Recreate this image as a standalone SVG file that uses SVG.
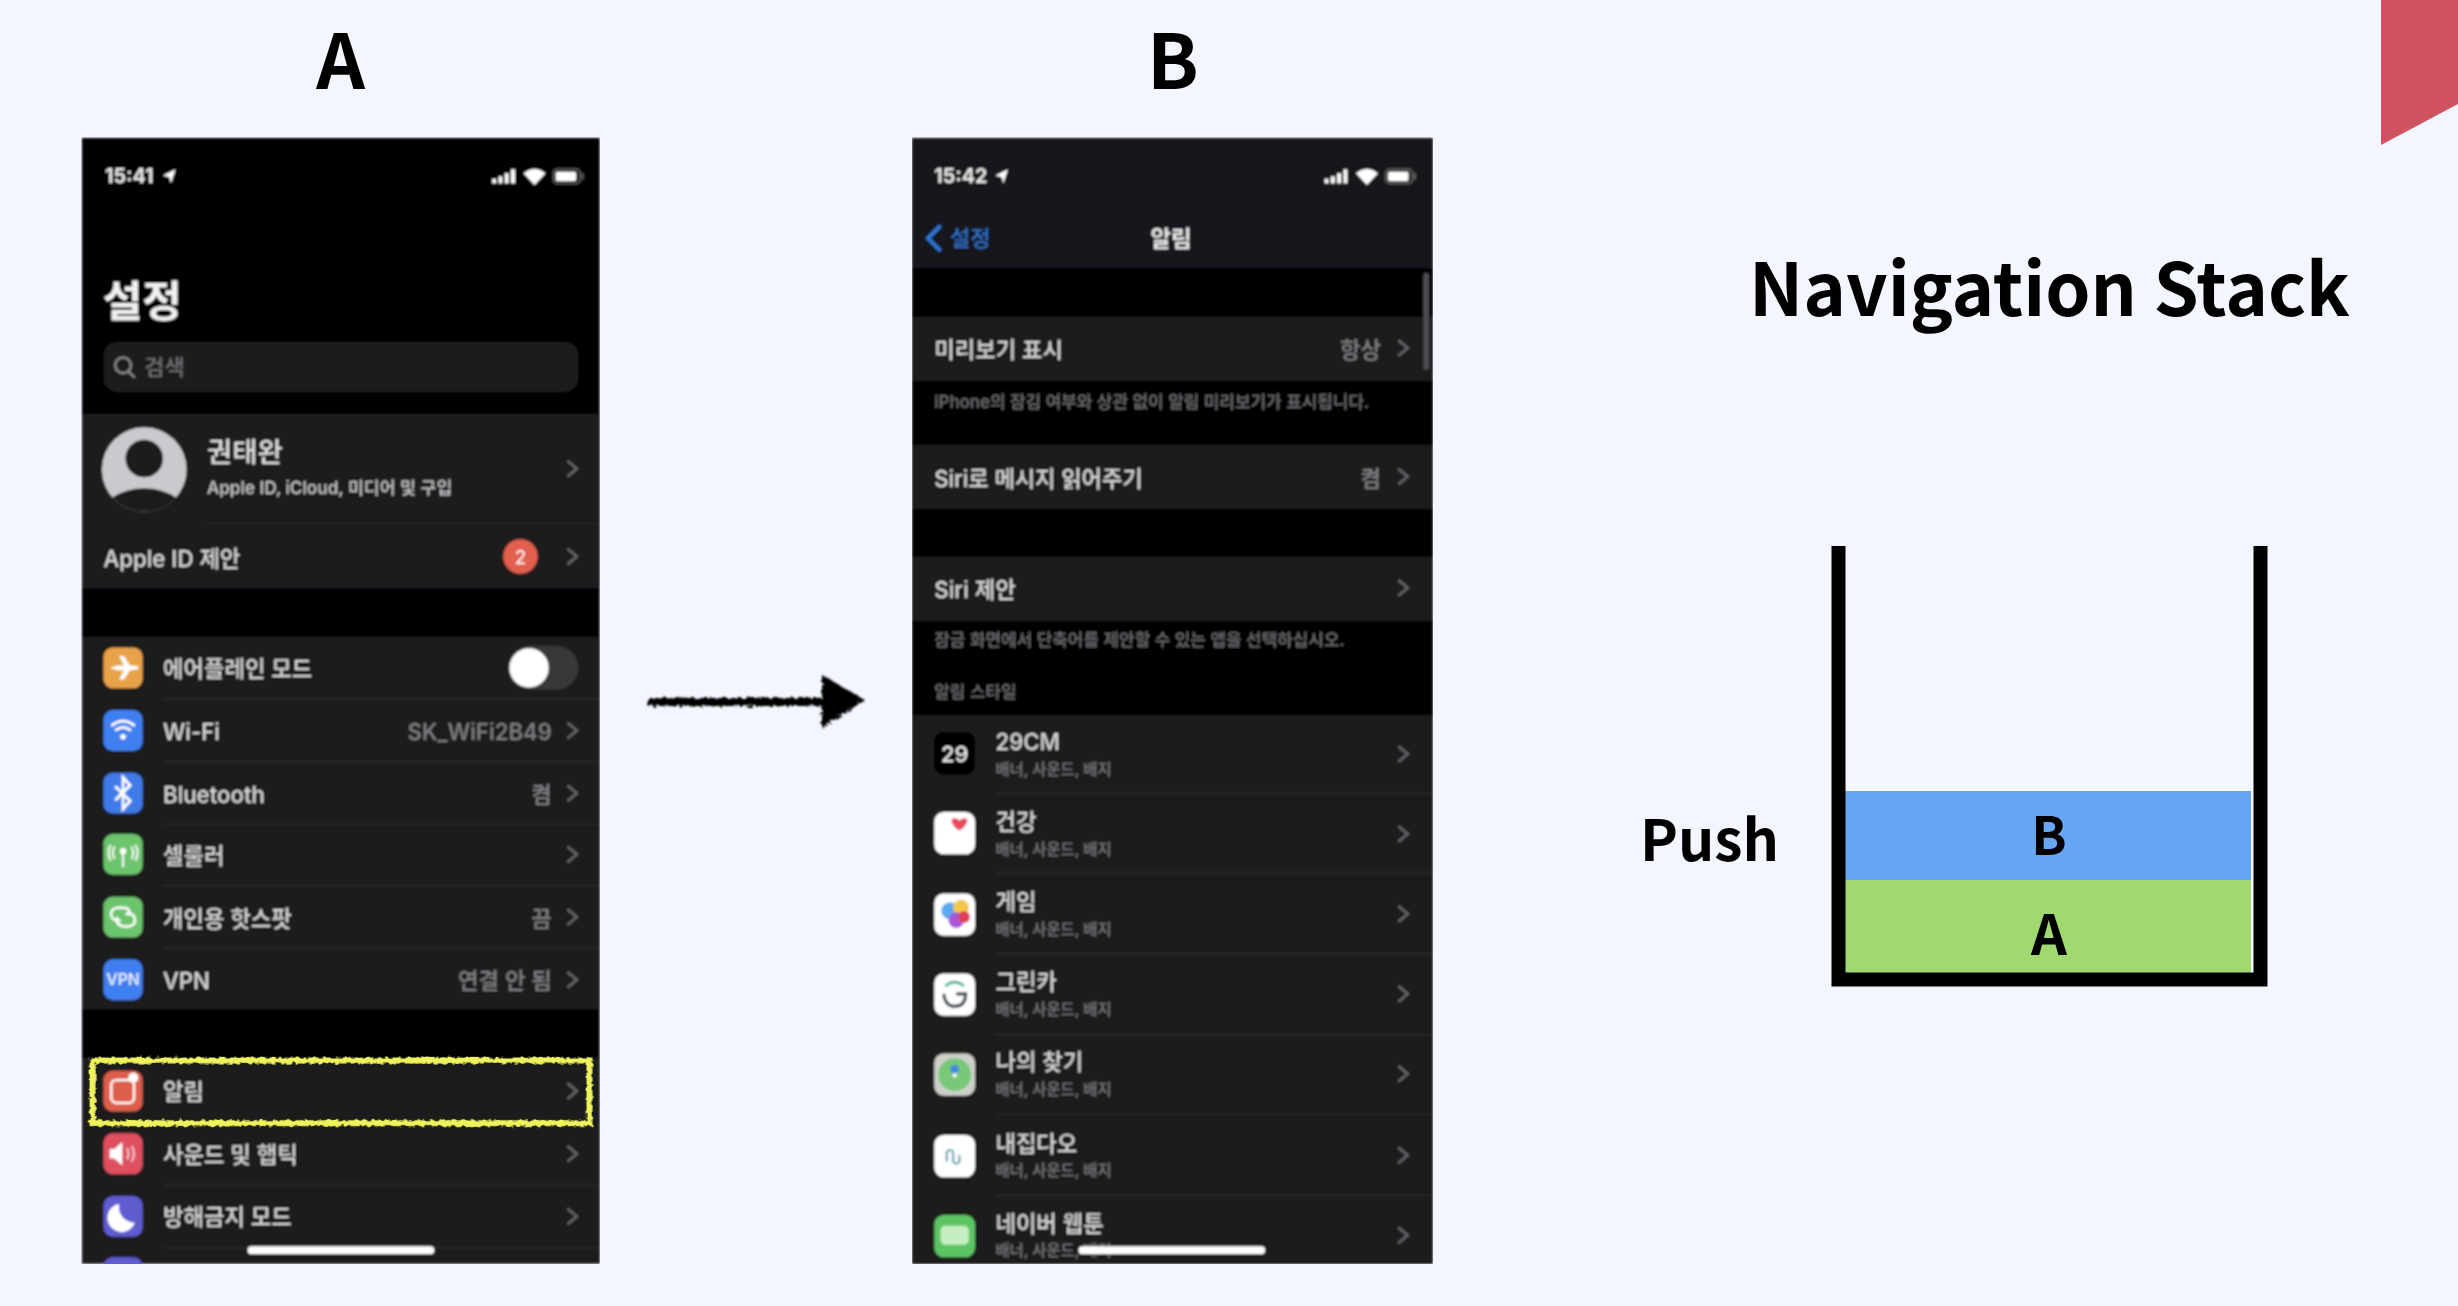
<svg xmlns="http://www.w3.org/2000/svg" width="2458" height="1306" viewBox="0 0 2458 1306">
<style>
text{font-family:Inter,"Noto Sans CJK KR",sans-serif}
.h{font-family:"Noto Sans CJK KR",sans-serif;font-weight:700;fill:#000}
.lbl{font-size:14.2px;font-weight:500;fill:#d8d8da;transform:translateY(.6px)}
.val{font-size:14.2px;font-weight:500;fill:#808084;text-anchor:end;transform:translateY(.6px)}
.cap{font-size:10.8px;font-weight:500;fill:#6c6c70}
.sub{font-size:9.8px;font-weight:500;fill:#77777b;transform:translateY(.5px)}
.name{font-size:14.2px;font-weight:500;fill:#d8d8da;transform:translateY(.6px)}
.sec{fill:#1c1c1e}
.div{stroke:#2a2a2c;stroke-width:1}
.ic{fill:#fff}
.chev{fill:none;stroke:#66666a;stroke-width:1.6}
.wh{fill:#fff;stroke:none}
</style>
<defs>
<filter id="soft" x="-2%" y="-2%" width="104%" height="104%"><feGaussianBlur stdDeviation="0.6"/></filter>
<filter id="rough" x="-5%" y="-20%" width="110%" height="140%"><feTurbulence type="fractalNoise" baseFrequency="0.35" numOctaves="2" seed="4"/><feDisplacementMap in="SourceGraphic" scale="3.500"/><feGaussianBlur stdDeviation="0.4"/></filter>
<filter id="rough-arrow" filterUnits="userSpaceOnUse" x="620" y="650" width="270" height="100"><feTurbulence type="fractalNoise" baseFrequency="0.3" numOctaves="2" seed="7"/><feDisplacementMap in="SourceGraphic" scale="6"/><feGaussianBlur stdDeviation="0.8"/></filter>
<clipPath id="clipA"><rect x="52" y="88" width="330.500" height="718"/></clipPath>
<clipPath id="clipB"><rect x="582" y="88" width="332" height="718"/></clipPath>
<clipPath id="avatar"><circle cx="92" cy="299.500" r="27"/></clipPath>
<path id="chevron" class="chev" d="M-3,-5 L3,0 L-3,5"/>
<g id="status">
<rect class="wh" x="0" y="5" width="2.500" height="3"/><rect class="wh" x="4" y="3.500" width="2.500" height="4.500"/><rect class="wh" x="8" y="1.500" width="2.500" height="6.500"/><rect class="wh" x="12" y="-1" width="2.500" height="9"/>
<path d="M20,1.500 Q27,-4 34,1.500 L27,9 Z" class="wh"/>
<rect x="39" y="-1" width="17" height="9" rx="2.500" fill="none" stroke="#666" stroke-width="1"/><rect class="wh" x="40.500" y="0.500" width="13" height="6" rx="1"/>
<rect x="57" y="1.500" width="1.200" height="4" fill="#666"/>
</g>
<path id="loc" class="wh" d="M0,3 L8,-1 L5,8 L4,4 Z"/>
<marker id="head" markerUnits="userSpaceOnUse" markerWidth="50" markerHeight="60" refX="2" refY="27" orient="auto"><path d="M0,0 L43,25 L0,53 Z" fill="#000"/></marker>
</defs>
<rect id="background" width="2458" height="1306" fill="#f3f6fe"/>
<polygon id="corner" points="2381,0 2458,0 2458,104 2381,145" fill="#cf5460"/>
<text class="h" x="340.500" y="89" font-size="76" text-anchor="middle">A</text>
<text class="h" x="1173" y="89" font-size="76" text-anchor="middle">B</text>
<text id="title" class="h" x="1749" y="316" font-size="72.400">Navigation Stack</text>

<g transform="scale(1.5676)">
<g id="phone-a" clip-path="url(#clipA)">
<g filter="url(#soft)">
<rect x="52" y="88" width="330.500" height="718" fill="#000"/>
<text x="67" y="117" font-size="12.500" font-weight="700" fill="#e8e8e8">15:41</text><use href="#loc" x="104" y="109"/>
<use href="#status" x="314" y="109"/>
<text x="65.500" y="202.500" font-size="27.500" font-weight="700" fill="#f2f2f2">설정</text>
<rect class="sec" x="66" y="218" width="303" height="32" rx="9"/>
<circle cx="78.500" cy="233" r="5" fill="none" stroke="#8a8a8e" stroke-width="1.500"/><path d="M82,237 L86,241" stroke="#8a8a8e" stroke-width="1.500"/>
<text x="92" y="239" font-size="14" font-weight="500" fill="#6e6e72">검색</text>

<rect class="sec" x="52" y="264" width="330.500" height="111.500"/>
<circle cx="92" cy="299.500" r="27" fill="#c9c9ce"/>
<g clip-path="url(#avatar)"><circle cx="92" cy="292.500" r="12" fill="#1c1c1e"/><ellipse cx="92" cy="332" rx="29" ry="20.500" fill="#1c1c1e"/></g>
<text x="132" y="294.500" font-size="17.500" font-weight="500" fill="#e0e0e2">권태완</text>
<text x="132" y="315" font-size="11" font-weight="500" fill="#c8c8cc">Apple ID, iCloud, 미디어 및 구입</text>
<use href="#chevron" x="365" y="299"/>
<line class="div" x1="132" y1="334" x2="382" y2="334"/>
<text class="lbl" x="66" y="361">Apple ID 제안</text>
<circle cx="332" cy="355" r="11" fill="#e2604e"/><text x="332" y="359.500" font-size="12" fill="#fff" text-anchor="middle">2</text>
<use href="#chevron" x="365" y="355"/>

<rect class="sec" x="52" y="406" width="330.500" height="238"/>
<line class="div" x1="104" y1="446" x2="382" y2="446"/><line class="div" x1="104" y1="486" x2="382" y2="486"/><line class="div" x1="104" y1="526" x2="382" y2="526"/><line class="div" x1="104" y1="565" x2="382" y2="565"/><line class="div" x1="104" y1="605" x2="382" y2="605"/>

<g id="row-airplane"><rect x="66" y="413" width="25" height="26" rx="6" fill="#e8a349"/><path class="ic" d="M70,426 L75,424.500 L79,424.500 L76,418.500 L79,418.500 L83,424.500 L88,425 L88,427 L83,427.500 L79,433.500 L76,433.500 L79,427.500 L75,427.500 Z"/><text class="lbl" x="104" y="431">에어플레인 모드</text><rect x="324" y="412" width="45" height="28" rx="14" fill="#38383a"/><circle cx="337.500" cy="426" r="12.500" fill="#fff"/></g>
<g id="row-wifi"><rect x="66" y="453" width="25" height="26" rx="6" fill="#3f7ff0"/><path d="M71,463 Q78.500,457 86,463 M73.500,466 Q78.500,462 83.500,466" fill="none" stroke="#fff" stroke-width="1.800"/><circle class="ic" cx="78.500" cy="470" r="1.800"/><text class="lbl" x="104" y="471.500">Wi-Fi</text><text class="val" x="352" y="471.500" textLength="92">SK_WiFi2B49</text><use href="#chevron" x="365" y="466"/></g>
<g id="row-bluetooth"><rect x="66" y="493" width="25" height="26" rx="6" fill="#3f7ae8"/><path d="M73.500,501.500 L83,511 L78.500,516 L78.500,496 L83,501 L73.500,510.500" fill="none" stroke="#fff" stroke-width="1.800"/><text class="lbl" x="104" y="511.500">Bluetooth</text><text class="val" x="352" y="511.500">켬</text><use href="#chevron" x="365" y="506"/></g>
<g id="row-cellular"><rect x="66" y="532" width="25" height="26" rx="6" fill="#6cc46c"/><path d="M78.500,542 L78.500,553 M73,540 Q71,544 73,548 M84,540 Q86,544 84,548 M70.500,539 Q68,544 70.500,549 M86.500,539 Q89,544 86.500,549" fill="none" stroke="#fff" stroke-width="1.200"/><circle class="ic" cx="78.500" cy="543" r="2"/><text class="lbl" x="104" y="550.500">셀룰러</text><use href="#chevron" x="365" y="545"/></g>
<g id="row-hotspot"><rect x="66" y="572" width="25" height="26" rx="6" fill="#6cc46c"/><path d="M82,584 Q84,579 78,579 L75,579 Q70,580 71,584 Q72,588 77,587 M75,585 Q73,590 79,591 L82,591 Q87,590 86,586 Q85,582 80,583" fill="none" stroke="#fff" stroke-width="1.600"/><text class="lbl" x="104" y="590.500">개인용 핫스팟</text><text class="val" x="352" y="590.500">끔</text><use href="#chevron" x="365" y="585"/></g>
<g id="row-vpn"><rect x="66" y="612" width="25" height="26" rx="6" fill="#3f7ff0"/><text x="78.500" y="628.500" font-size="10" font-weight="600" fill="#fff" text-anchor="middle" opacity="0.850">VPN</text><text class="lbl" x="104" y="630.500">VPN</text><text class="val" x="352" y="630.500">연결 안 됨</text><use href="#chevron" x="365" y="625"/></g>

<rect class="sec" x="52" y="675" width="330.500" height="131"/>
<line class="div" x1="104" y1="756" x2="382" y2="756"/><line class="div" x1="104" y1="796" x2="382" y2="796"/>
<g id="row-alarm"><rect x="66" y="683" width="25" height="26" rx="6" fill="#dd5e4c"/><rect x="71" y="689" width="14.500" height="14.500" rx="3" fill="none" stroke="#fff" stroke-width="1.500"/><circle class="ic" cx="85" cy="687.500" r="3.200"/><text class="lbl" x="104" y="701">알림</text><use href="#chevron" x="365" y="696"/></g>
<g id="row-sound"><rect x="66" y="723" width="25" height="26" rx="6" fill="#de5060"/><path class="ic" d="M70,733 L73,733 L78,728.500 L78,743.500 L73,739 L70,739 Z"/><path d="M81,732.500 Q83,736 81,739.500 M84,731 Q87,736 84,741" fill="none" stroke="#fff" stroke-width="1.200" opacity="0.700"/><text class="lbl" x="104" y="741">사운드 및 햅틱</text><use href="#chevron" x="365" y="736"/></g>
<g id="row-dnd"><rect x="66" y="763" width="25" height="26" rx="6" fill="#5e5ccf"/><path class="ic" d="M76,768 A9,9 0 1 0 86,780 A10,10 0 0 1 76,768 Z"/><text class="lbl" x="104" y="781">방해금지 모드</text><use href="#chevron" x="365" y="776"/></g>
<rect x="66" y="802" width="25" height="26" rx="6" fill="#5e5ccf"/>
<rect class="wh" x="158" y="795" width="119" height="5" rx="2.500"/>
</g>
<rect id="highlight" x="59" y="676.500" width="317" height="40" fill="none" stroke="#eef25c" stroke-width="3.800" filter="url(#rough)"/>
</g>

<g id="phone-b" clip-path="url(#clipB)">
<g filter="url(#soft)">
<rect x="582" y="88" width="332" height="718" fill="#000"/>
<rect x="582" y="88" width="332" height="83" fill="#19191b"/>
<text x="596" y="117" font-size="12.500" font-weight="700" fill="#e8e8e8">15:42</text><use href="#loc" x="635" y="109"/>
<use href="#status" x="845" y="109"/>
<path d="M600,144 L592,152 L600,160" fill="none" stroke="#2f74d0" stroke-width="2.500"/>
<text x="606" y="157" font-size="14" font-weight="500" fill="#2f6fc4">설정</text>
<text x="747" y="157.500" font-size="14.300" font-weight="700" fill="#e8e8e8" text-anchor="middle">알림</text>

<rect class="sec" x="582" y="202" width="332" height="41"/>
<text class="lbl" x="596" y="228">미리보기 표시</text><text class="val" x="881" y="228">항상</text><use href="#chevron" x="895" y="222"/>
<text class="cap" x="596" y="260">iPhone의 잠김 여부와 상관 없이 알림 미리보기가 표시됩니다.</text>
<rect class="sec" x="582" y="284" width="332" height="41"/>
<text class="lbl" x="596" y="310" textLength="133">Siri로 메시지 읽어주기</text><text class="val" x="881" y="310">켬</text><use href="#chevron" x="895" y="304"/>
<rect class="sec" x="582" y="355" width="332" height="41"/>
<text class="lbl" x="596" y="381">Siri 제안</text><use href="#chevron" x="895" y="375"/>
<text class="cap" x="596" y="412">잠금 화면에서 단축어를 제안할 수 있는 앱을 선택하십시오.</text>
<text class="cap" x="596" y="445">알림 스타일</text>
<rect x="908" y="174" width="3.500" height="62" rx="1.700" fill="#4e4e52"/>

<rect class="sec" x="582" y="456" width="332" height="350"/>
<line class="div" x1="635" y1="506" x2="914" y2="506"/><line class="div" x1="635" y1="557" x2="914" y2="557"/><line class="div" x1="635" y1="608.500" x2="914" y2="608.500"/><line class="div" x1="635" y1="660" x2="914" y2="660"/><line class="div" x1="635" y1="711" x2="914" y2="711"/><line class="div" x1="635" y1="762.500" x2="914" y2="762.500"/>

<g id="app-29cm"><rect x="596" y="467" width="26" height="27" rx="6" fill="#000"/><text x="609" y="486" font-size="14" font-weight="500" fill="#eee" text-anchor="middle">29</text><text class="name" x="635" y="478">29CM</text><text class="sub" x="635" y="494">배너, 사운드, 배지</text><use href="#chevron" x="895" y="481"/></g>
<g id="app-health"><rect x="596" y="518" width="26" height="27" rx="6" fill="#fff"/><path d="M612,530 C606,526 606,522 609,522 C611,522 612,523 612,524 C612,523 614,522 615.500,522 C618,522 618,526 612,530 Z" fill="#e8465c"/><text class="name" x="635" y="529">건강</text><text class="sub" x="635" y="545">배너, 사운드, 배지</text><use href="#chevron" x="895" y="532"/></g>
<g id="app-game"><rect x="596" y="570" width="26" height="27" rx="6" fill="#fff"/><circle cx="606" cy="581" r="5.500" fill="#5aa8f0"/><circle cx="613" cy="579" r="5" fill="#f2c84a"/><circle cx="610" cy="587" r="5" fill="#a855d8"/><circle cx="615" cy="585" r="3.800" fill="#e0405a"/><text class="name" x="635" y="580">게임</text><text class="sub" x="635" y="596">배너, 사운드, 배지</text><use href="#chevron" x="895" y="583"/></g>
<g id="app-greencar"><rect x="596" y="621" width="26" height="27" rx="6" fill="#fff"/><path d="M603,629 Q609,624 615,629" fill="none" stroke="#3cb88c" stroke-width="1.800"/><path d="M602,634 Q603,642 609,642 Q616,642 616,634 L610,634" fill="none" stroke="#3c4650" stroke-width="2"/><text class="name" x="635" y="631">그린카</text><text class="sub" x="635" y="647">배너, 사운드, 배지</text><use href="#chevron" x="895" y="634"/></g>
<g id="app-findmy"><rect x="596" y="672" width="26" height="27" rx="6" fill="#ccd0c8"/><circle cx="609" cy="685.500" r="10.500" fill="#78c878"/><circle cx="609" cy="682" r="2.800" fill="#3d8ae0"/><circle cx="609" cy="686" r="1.300" fill="#fff"/><text class="name" x="635" y="682">나의 찾기</text><text class="sub" x="635" y="698">배너, 사운드, 배지</text><use href="#chevron" x="895" y="685"/></g>
<g id="app-naejip"><rect x="596" y="724" width="26" height="27" rx="6" fill="#fff"/><path d="M604,741 L604,735 Q606,732 608,735 L608,741 Q610,744 612,741 L612,737" fill="none" stroke="#6aa8b8" stroke-width="1.500"/><text class="name" x="635" y="734">내집다오</text><text class="sub" x="635" y="750">배너, 사운드, 배지</text><use href="#chevron" x="895" y="737"/></g>
<g id="app-webtoon"><rect x="596" y="775" width="26" height="27" rx="6" fill="#5cc463"/><rect x="600" y="782" width="18" height="12" rx="3" fill="#c6eec2"/><text class="name" x="635" y="785">네이버 웹툰</text><text class="sub" x="635" y="801">배너, 사운드, 배지</text><use href="#chevron" x="895" y="788"/></g>
<rect class="wh" x="688" y="795" width="119" height="5" rx="2.500"/>
</g>
</g>
</g>

<g id="connectors" filter="url(#rough-arrow)">
<line x1="648" y1="702" x2="824" y2="702" stroke="#000" stroke-width="8" marker-end="url(#head)"/>
</g>

<g id="stack">
<rect id="frame-b" x="1845" y="791" width="406" height="89" fill="#66a6f2"/>
<rect id="frame-a" x="1845" y="880" width="406" height="93" fill="#a0d970"/>
<path d="M1838.500,546 V979.500 H2260.500 V546" fill="none" stroke="#000" stroke-width="14"/>
<text class="h" x="2049" y="855" font-size="52" text-anchor="middle">B</text>
<text class="h" x="2049" y="955" font-size="56" text-anchor="middle">A</text>
<text id="push" class="h" x="1640" y="861" font-size="57">Push</text>
</g>
</svg>
